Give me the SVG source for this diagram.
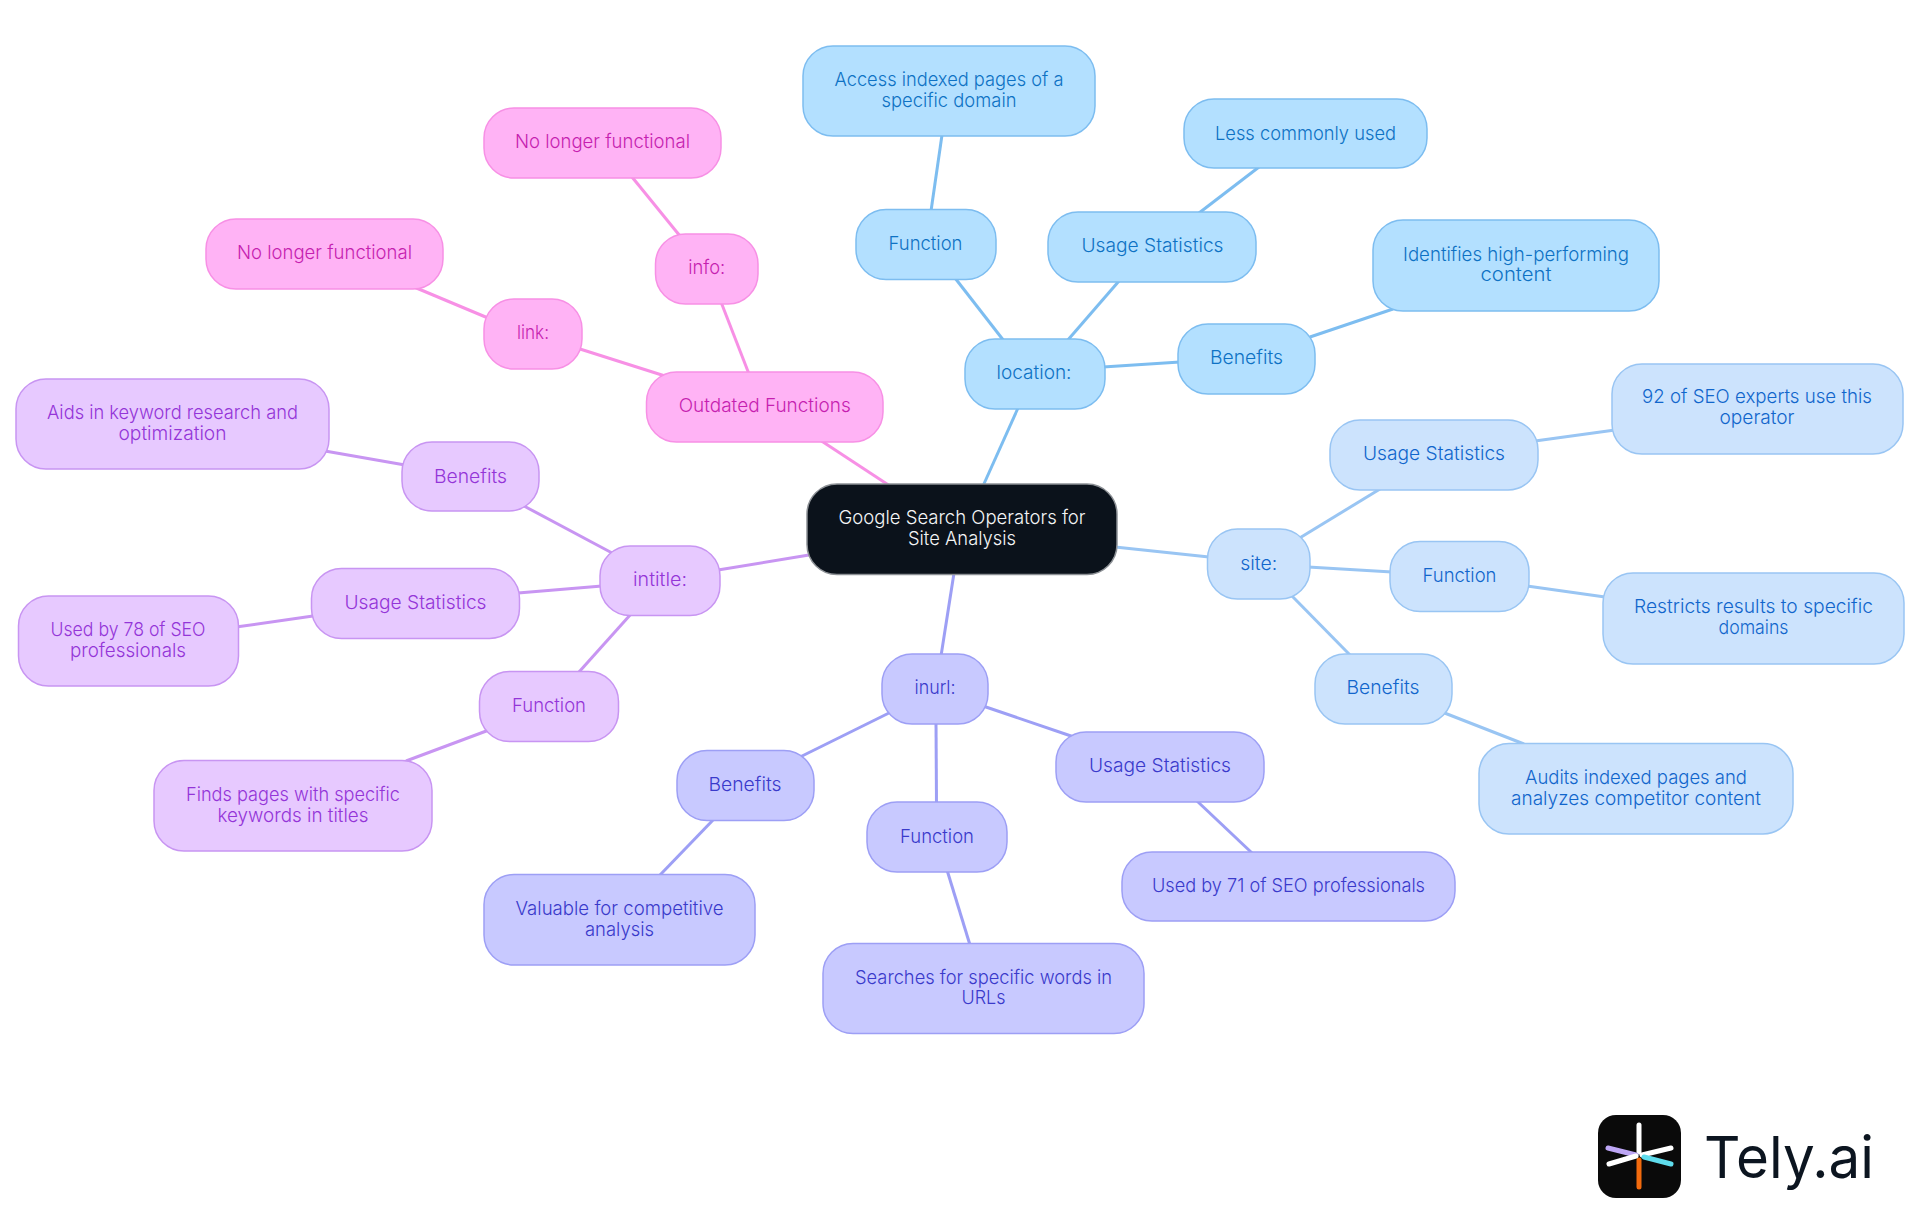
<svg xmlns="http://www.w3.org/2000/svg" width="1920" height="1215" viewBox="0 0 1920 1215">
<style>
text{font-family:"Inter","Noto Sans","Liberation Sans",sans-serif;font-size:19px;font-weight:350;text-anchor:middle}
rect{stroke-width:1.5}
line{stroke-width:3;stroke-linecap:butt;fill:none}
.r rect{fill:#0b121b;stroke:#8c9095}.r text{fill:#f4f5f6}
.a rect{fill:#b3e0ff;stroke:#7dbdf0}.a text{fill:#0e72c4}.a line,line.a{stroke:#7dbdf0}
.b rect{fill:#cce3fd;stroke:#99c5f3}.b text{fill:#1166cc}line.b{stroke:#99c5f3}
.c rect{fill:#c8c9ff;stroke:#9d9ff5}.c text{fill:#3a3acb}line.c{stroke:#9d9ff5}
.d rect{fill:#e7c9ff;stroke:#c895f2}.d text{fill:#9435d8}line.d{stroke:#c895f2}
.e rect{fill:#ffb3f5;stroke:#f790e5}.e text{fill:#c61fb0}line.e{stroke:#f790e5}
</style>
<rect width="1920" height="1215" fill="#ffffff" stroke="none"/>
<g id="connectors">
<line class="a" x1="983" y1="486" x2="1018" y2="408"/>
<line class="e" x1="890" y1="486" x2="820" y2="440"/>
<line class="b" x1="1115" y1="547" x2="1209" y2="557"/>
<line class="c" x1="954" y1="573" x2="941" y2="656"/>
<line class="d" x1="809" y1="555" x2="718" y2="570"/>
<line class="e" x1="749" y1="374" x2="721" y2="302"/>
<line class="e" x1="665" y1="376" x2="580" y2="349"/>
<line class="e" x1="680" y1="236" x2="632" y2="177"/>
<line class="e" x1="488" y1="318" x2="414" y2="287"/>
<line class="a" x1="1004" y1="341" x2="955" y2="278"/>
<line class="a" x1="931" y1="211" x2="942" y2="135"/>
<line class="a" x1="1067" y1="341" x2="1119" y2="281"/>
<line class="a" x1="1199" y1="213" x2="1259" y2="167"/>
<line class="a" x1="1103" y1="367" x2="1180" y2="362"/>
<line class="a" x1="1310" y1="337" x2="1393" y2="309"/>
<line class="b" x1="1298" y1="539" x2="1380" y2="489"/>
<line class="b" x1="1535" y1="441" x2="1615" y2="430"/>
<line class="b" x1="1308" y1="567" x2="1392" y2="572"/>
<line class="b" x1="1527" y1="586" x2="1605" y2="597"/>
<line class="b" x1="1291" y1="595" x2="1350" y2="655"/>
<line class="b" x1="1442" y1="712" x2="1524" y2="744"/>
<line class="c" x1="891" y1="712" x2="798" y2="758"/>
<line class="c" x1="714" y1="819" x2="660" y2="875"/>
<line class="c" x1="936" y1="722" x2="936.5" y2="804"/>
<line class="c" x1="947" y1="870" x2="970" y2="945"/>
<line class="c" x1="983" y1="706" x2="1074" y2="737"/>
<line class="c" x1="1197" y1="801" x2="1252" y2="853"/>
<line class="d" x1="614" y1="554" x2="524" y2="506"/>
<line class="d" x1="405" y1="465" x2="325" y2="451"/>
<line class="d" x1="602" y1="586" x2="518" y2="593"/>
<line class="d" x1="313" y1="616" x2="236" y2="627"/>
<line class="d" x1="631" y1="614" x2="579" y2="672"/>
<line class="d" x1="489" y1="730" x2="406" y2="761"/>
</g>
<g id="root" class="r"><rect x="807" y="484" width="310" height="90.5" rx="30"/><text x="962" y="523.5" textLength="247" lengthAdjust="spacingAndGlyphs">Google Search Operators for</text><text x="962" y="544.5" textLength="108" lengthAdjust="spacingAndGlyphs">Site Analysis</text></g>
<g id="outdated" class="e"><rect x="646.500" y="372" width="236.500" height="70" rx="30"/><text x="764.700" y="412" textLength="172" lengthAdjust="spacingAndGlyphs">Outdated Functions</text></g>
<g id="info" class="e"><rect x="655.500" y="234" width="102.500" height="70" rx="30"/><text x="706.700" y="274" textLength="37" lengthAdjust="spacingAndGlyphs">info:</text></g>
<g id="info-note" class="e"><rect x="484" y="108" width="237" height="70" rx="30"/><text x="602.500" y="147.500" textLength="175" lengthAdjust="spacingAndGlyphs">No longer functional</text></g>
<g id="link" class="e"><rect x="484" y="299" width="98" height="70" rx="30"/><text x="533" y="339" textLength="32" lengthAdjust="spacingAndGlyphs">link:</text></g>
<g id="link-note" class="e"><rect x="206" y="219" width="237" height="70" rx="30"/><text x="324.500" y="259" textLength="175" lengthAdjust="spacingAndGlyphs">No longer functional</text></g>
<g id="location" class="a"><rect x="965" y="339" width="140" height="70" rx="30"/><text x="1034" y="379" textLength="75" lengthAdjust="spacingAndGlyphs">location:</text></g>
<g id="loc-function" class="a"><rect x="856" y="209.500" width="140" height="70" rx="30"/><text x="925.500" y="250" textLength="74" lengthAdjust="spacingAndGlyphs">Function</text></g>
<g id="loc-function-note" class="a"><rect x="803" y="46" width="292" height="90" rx="30"/><text x="949" y="86" textLength="229" lengthAdjust="spacingAndGlyphs">Access indexed pages of a</text><text x="949" y="107" textLength="135" lengthAdjust="spacingAndGlyphs">specific domain</text></g>
<g id="loc-usage" class="a"><rect x="1048" y="212" width="208" height="70" rx="30"/><text x="1152.500" y="252" textLength="142" lengthAdjust="spacingAndGlyphs">Usage Statistics</text></g>
<g id="loc-usage-note" class="a"><rect x="1184" y="99" width="243" height="69" rx="30"/><text x="1305.500" y="139.500" textLength="181" lengthAdjust="spacingAndGlyphs">Less commonly used</text></g>
<g id="loc-benefits" class="a"><rect x="1178" y="324" width="137" height="70" rx="30"/><text x="1246.500" y="364" textLength="73" lengthAdjust="spacingAndGlyphs">Benefits</text></g>
<g id="loc-benefits-note" class="a"><rect x="1373" y="220" width="286" height="91" rx="30"/><text x="1516" y="260.500" textLength="226" lengthAdjust="spacingAndGlyphs">Identifies high-performing</text><text x="1516" y="281" textLength="71" lengthAdjust="spacingAndGlyphs">content</text></g>
<g id="site" class="b"><rect x="1207.500" y="529" width="102.500" height="70" rx="30"/><text x="1258.700" y="569.500" textLength="37" lengthAdjust="spacingAndGlyphs">site:</text></g>
<g id="site-usage" class="b"><rect x="1330" y="420" width="208" height="70" rx="30"/><text x="1434" y="460" textLength="142" lengthAdjust="spacingAndGlyphs">Usage Statistics</text></g>
<g id="site-usage-note" class="b"><rect x="1612" y="364" width="291" height="90" rx="30"/><text x="1757" y="403" textLength="230" lengthAdjust="spacingAndGlyphs">92 of SEO experts use this</text><text x="1757" y="424" textLength="75" lengthAdjust="spacingAndGlyphs">operator</text></g>
<g id="site-function" class="b"><rect x="1390" y="541.500" width="139" height="70" rx="30"/><text x="1459.500" y="582" textLength="74" lengthAdjust="spacingAndGlyphs">Function</text></g>
<g id="site-function-note" class="b"><rect x="1603" y="573" width="301" height="91" rx="30"/><text x="1753.500" y="613" textLength="239" lengthAdjust="spacingAndGlyphs">Restricts results to specific</text><text x="1753.500" y="634" textLength="70" lengthAdjust="spacingAndGlyphs">domains</text></g>
<g id="site-benefits" class="b"><rect x="1315" y="654" width="137" height="70" rx="30"/><text x="1383" y="694" textLength="73" lengthAdjust="spacingAndGlyphs">Benefits</text></g>
<g id="site-benefits-note" class="b"><rect x="1479" y="743.500" width="314" height="90.500" rx="30"/><text x="1636" y="784" textLength="222" lengthAdjust="spacingAndGlyphs">Audits indexed pages and</text><text x="1636" y="804.500" textLength="250" lengthAdjust="spacingAndGlyphs">analyzes competitor content</text></g>
<g id="inurl" class="c"><rect x="882" y="654" width="106" height="70" rx="30"/><text x="935" y="693.500" textLength="41" lengthAdjust="spacingAndGlyphs">inurl:</text></g>
<g id="inurl-benefits" class="c"><rect x="677" y="750.500" width="137" height="70" rx="30"/><text x="745" y="791" textLength="73" lengthAdjust="spacingAndGlyphs">Benefits</text></g>
<g id="inurl-benefits-note" class="c"><rect x="484" y="874.500" width="271" height="90.500" rx="30"/><text x="619.500" y="915" textLength="208" lengthAdjust="spacingAndGlyphs">Valuable for competitive</text><text x="619.500" y="935.500" textLength="69" lengthAdjust="spacingAndGlyphs">analysis</text></g>
<g id="inurl-function" class="c"><rect x="867" y="802" width="140" height="70" rx="30"/><text x="937" y="843" textLength="74" lengthAdjust="spacingAndGlyphs">Function</text></g>
<g id="inurl-function-note" class="c"><rect x="823" y="943.500" width="321" height="90" rx="30"/><text x="983.500" y="983.500" textLength="257" lengthAdjust="spacingAndGlyphs">Searches for specific words in</text><text x="983.500" y="1004" textLength="44" lengthAdjust="spacingAndGlyphs">URLs</text></g>
<g id="inurl-usage" class="c"><rect x="1056" y="732" width="208" height="70" rx="30"/><text x="1160" y="772" textLength="142" lengthAdjust="spacingAndGlyphs">Usage Statistics</text></g>
<g id="inurl-usage-note" class="c"><rect x="1122" y="852" width="333" height="69" rx="30"/><text x="1288.500" y="892" textLength="273" lengthAdjust="spacingAndGlyphs">Used by 71 of SEO professionals</text></g>
<g id="intitle" class="d"><rect x="600" y="546" width="120" height="69.500" rx="30"/><text x="660" y="586" textLength="54" lengthAdjust="spacingAndGlyphs">intitle:</text></g>
<g id="intitle-benefits" class="d"><rect x="402" y="442" width="137" height="69" rx="30"/><text x="470.500" y="482.500" textLength="73" lengthAdjust="spacingAndGlyphs">Benefits</text></g>
<g id="intitle-benefits-note" class="d"><rect x="16" y="379" width="313" height="90" rx="30"/><text x="172.500" y="419" textLength="251" lengthAdjust="spacingAndGlyphs">Aids in keyword research and</text><text x="172.500" y="440" textLength="108" lengthAdjust="spacingAndGlyphs">optimization</text></g>
<g id="intitle-usage" class="d"><rect x="311.500" y="568.500" width="208" height="70" rx="30"/><text x="415.500" y="609" textLength="142" lengthAdjust="spacingAndGlyphs">Usage Statistics</text></g>
<g id="intitle-usage-note" class="d"><rect x="18.500" y="596" width="220" height="90" rx="30"/><text x="128" y="636" textLength="155" lengthAdjust="spacingAndGlyphs">Used by 78 of SEO</text><text x="128" y="657" textLength="116" lengthAdjust="spacingAndGlyphs">professionals</text></g>
<g id="intitle-function" class="d"><rect x="479.500" y="671.500" width="139" height="70" rx="30"/><text x="549" y="712" textLength="74" lengthAdjust="spacingAndGlyphs">Function</text></g>
<g id="intitle-function-note" class="d"><rect x="154" y="760.500" width="278" height="90.500" rx="30"/><text x="293" y="801" textLength="214" lengthAdjust="spacingAndGlyphs">Finds pages with specific</text><text x="293" y="821.500" textLength="151" lengthAdjust="spacingAndGlyphs">keywords in titles</text></g>
<g id="logo">
<rect x="1598" y="1115" width="83" height="83" rx="18" fill="#0a0a0a" stroke="none"/>
<g stroke-width="5" stroke-linecap="round" fill="none">
<path d="M1639 1125V1152" stroke="#ffffff"/>
<path d="M1639 1160V1187" stroke="#f26a0d"/>
<path d="M1608 1148L1636 1155" stroke="#bda6f5"/>
<path d="M1671 1148L1642 1155" stroke="#ffffff"/>
<path d="M1609 1164L1636 1156" stroke="#ffffff"/>
<path d="M1671 1164L1644 1157" stroke="#5fdcec"/>
</g>
<text x="1704" y="1178" textLength="170" lengthAdjust="spacingAndGlyphs" style="font-size:58px;font-weight:400;text-anchor:start;fill:#0c1520">Tely.ai</text>
</g>
</svg>
